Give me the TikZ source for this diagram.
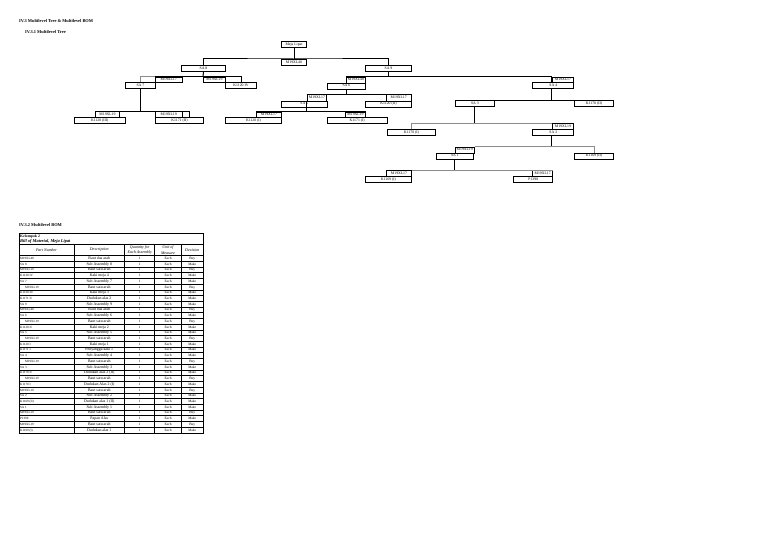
\documentclass[tikz,border=0pt]{standalone}
\usepackage{fontspec}
\setmainfont{Liberation Serif}
\tikzset{
	partbox/.style={draw, line width=1pt, anchor=north west, inner sep=0pt, minimum height=#1, font=\fontsize{3.8}{3.8}\selectfont, text height=2.5pt, text depth=0.7pt},
	partbox/.default=6pt,
	link/.style={line width=1pt},
	palelink/.style={line width=1pt, black!45},
	heading/.style={anchor=west, inner sep=0pt, font=\fontsize{4.4}{5}\selectfont\bfseries},
	cell/.style={inner sep=0pt, text height=2.5pt, text depth=0.7pt, font=\fontsize{3.5}{3.5}\selectfont},
	headcell/.style={inner sep=0pt, align=center, font=\fontsize{4}{5.4}\selectfont\itshape},
	rule/.style={line width=0.9pt}
}
\begin{document}
\begin{tikzpicture}[x=1pt,y=-1pt]
	\useasboundingbox (0,0) rectangle (768,543);

	\node[heading] (title) at (19,21) {IV.3 Multilevel Tree \& Multilevel BOM};
	\node[heading] (titletree) at (25,32.5) {IV.3.1 Multilevel Tree};
	\node[heading] (titlebom) at (19,225) {IV.3.2 Multilevel BOM};

	% tree, top
	\node[partbox, minimum width=25pt] (meja) at (281,41.5) {Meja Lipat};
	\node[partbox, minimum width=25pt] (m40a) at (281,59) {M19XL40};
	\node[partbox, minimum width=44pt] (sa8) at (181,65) {SA 8};
	\node[partbox, minimum width=46pt] (sa9) at (365,65) {SA 9};
	\draw[link] (meja.south) -- (meja.south |- m40a.north);
	\draw[link] (sa8.north) |- (m40a.north) -| (sa9.north);

	% SA 8
	\node[partbox=5.5pt, minimum width=26.5pt] (m19a) at (155,76.5) {M19XL17};
	\node[partbox=5.5pt, minimum width=22pt] (m19b) at (203,76.5) {M19XL19};
	\node[partbox, minimum width=30.5pt] (sa7) at (124.7,82) {SA 7};
	\node[partbox, minimum width=31pt] (k1120iv) at (225,82) {K1120 IV};
	\draw[link] (sa8.south) -- (m19b.north west);
	\draw[palelink] (sa7.north) |- (m19a.north west);
	\draw[link] (m19a.north west) -- (m19b.north west) -| (k1120iv.north);

	% SA 7
	\node[partbox=6pt, minimum width=24pt] (m19c) at (95,111.3) {M19XL19};
	\node[partbox=6pt, minimum width=26.5pt] (m19d) at (155,111.3) {M19XL19};
	\node[partbox, minimum width=50.5pt] (k1120iii) at (74,117.3) {K1120 (III)};
	\node[partbox, minimum width=48pt] (k1171ii) at (155,117.3) {K1171 (II)};
	\coordinate (endiii) at (189.3,117.3);
	\draw[link] (sa7.south) -- (sa7.south |- m19c.north);
	\draw[link] (m19c.north west) -| (endiii);

	% SA 9
	\node[partbox=6pt, minimum width=19.5pt] (m40b) at (345.7,76.5) {M19XL40};
	\node[partbox=5.5pt, minimum width=21.5pt] (m19e) at (551.7,76.8) {M19XL17};
	\node[partbox, minimum width=38.5pt] (sa6) at (326.7,82.5) {SA 6};
	\node[partbox, minimum width=41pt] (sa4) at (532.3,82.3) {SA 4};
	\draw[link] (sa9.south) -- (sa9.south |- m40b.north);
	\draw[link] (m40b.north west) -| (m19e.north west);

	% SA 6
	\node[partbox=6.2pt, minimum width=19.5pt] (m19f) at (306.7,94.3) {M19XL17};
	\node[partbox=6.2pt, minimum width=25.5pt] (m19g) at (385.5,94.3) {M19XL17};
	\node[partbox, minimum width=45.5pt] (sa5) at (281,100.5) {SA 5};
	\node[partbox, minimum width=46pt] (k1120ii) at (365,100.5) {K1120 (II)};
	\draw[link] (sa6.south) -- (sa6.south |- m19f.north);
	\draw[link] (m19f.north west) -| (m19g.north east);

	% SA 5
	\node[partbox=5.8pt, minimum width=25pt] (m19h) at (256,111.5) {M19XL17};
	\node[partbox=5.8pt, minimum width=20pt] (m19i) at (345,111.5) {M19XL19};
	\node[partbox, minimum width=56pt] (k1120i) at (225,117.3) {K1120 (I)};
	\node[partbox, minimum width=60pt] (k1171i) at (326.7,117.3) {K1171 (I)};
	\draw[link] (m19f.south west) -- (m19f.south west |- m19h.north);
	\draw[link] (m19h.north west) -| (m19i.north east);

	% SA 4
	\node[partbox, minimum width=39.5pt] (sa3) at (454.7,100.3) {SA 3};
	\node[partbox, minimum width=39pt] (k1170ii) at (574,100.3) {K1170 (II)};
	\draw[link] (m19e.north west) -- (m19e.north west |- sa4.north);
	\draw[link] (m19e.north west |- sa4.south) -- (m19e.north west |- k1170ii.north) coordinate (busa);
	\draw[link] (sa3.north) |- (busa) -| (k1170ii.north);

	% SA 3
	\node[partbox, minimum width=48.5pt] (k1170i) at (386.7,129.3) {K1170 (I)};
	\node[partbox=6pt, minimum width=21.5pt] (m19j) at (551.7,123.2) {M19XL19};
	\node[partbox, minimum width=41pt] (sa2) at (532.3,129.2) {SA 2};
	\draw[link] (sa3.south) -- (sa3.south |- m19j.north);
	\draw[palelink] (k1170i.north) |- (m19j.north west);

	% SA 2
	\node[partbox=6pt, minimum width=18.5pt] (m19k) at (455,146.5) {M19XL19};
	\node[partbox, minimum width=37.5pt] (sa1) at (435.7,152.5) {SA 1};
	\node[partbox, minimum width=39pt] (k1169ii) at (574,152.5) {K1169 (II)};
	\draw[link] (m19j.north west |- sa2.south) -- (m19j.north west |- m19k.north);
	\draw[palelink] (m19k.north east) -| (k1169ii.north);

	% SA 1
	\node[partbox=6pt, minimum width=25pt] (m19l) at (386,170) {M19XL17};
	\node[partbox=6pt, minimum width=20.3pt] (m19m) at (532,170) {M19XL17};
	\node[partbox, minimum width=46.3pt] (k1169i) at (364.7,176) {K1169 (I)};
	\node[partbox, minimum width=39pt] (p1390) at (513.3,176) {P1390};
	\draw[link] (sa1.south) -- (sa1.south |- m19l.north);
	\draw[palelink] (m19l.north east) -- (m19m.north east);

	% table, frame and rules
	\draw[rule] (19,233.5) rectangle (203.3,433);
	\draw[rule] (19,244.3) -- (203.3,244.3);
	\foreach \n in {0,...,30}
		\draw[rule] (19,255.7+5.72*\n) -- (203.3,255.7+5.72*\n);
	\foreach \c in {74,124.7,154.7,181.3}
		\draw[rule] (\c,244.3) -- (\c,433);

	\node[cell, anchor=west, font=\fontsize{3.8}{4}\selectfont\bfseries] (kelompok) at (20,236.5) {Kelompok 2};
	\node[cell, anchor=west, font=\fontsize{4.4}{4}\selectfont\bfseries\itshape] (bomname) at (20,241.5) {Bill of Material, Meja Lipat};
	\node[headcell] (hpart) at (46.5,250) {Part Number};
	\node[headcell] (hdesc) at (99.3,250) {Description};
	\node[headcell] (hqty) at (139.7,250) {Quantity for\\Each Assembly};
	\node[headcell] (hunit) at (168,250) {Unit of\\Measure};
	\node[headcell] (hdec) at (192.3,250) {Decision};

	\foreach \n/\ind/\pn/\desc/\dec in {
		0/0/M19XL40/Baut dua arah/Buy, 1/0/SA 8/Sub Assembly 8/Make,
		2/0/M19XL19/Baut satu arah/Buy, 3/0/K1120 IV/Kaki meja 4/Make,
		4/0/SA 7/Sub Assembly 7/Make, 5/5/M19XL19/Baut satu arah/Buy,
		6/0/K1120 III/Kaki meja 3/Make, 7/0/K1171 II/Dudukan alas 2/Make,
		8/0/SA 9/Sub Assembly 9/Make, 9/0/M19XL40/Baut dua arah/Buy,
		10/0/SA 6/Sub Assembly 6/Make, 11/5/M19XL19/Baut satu arah/Buy,
		12/0/K1120 II/Kaki meja 2/Make, 13/0/SA 5/Sub Assembly 5/Make,
		14/5/M19XL19/Baut satu arah/Buy, 15/0/K1120 I/Kaki meja 1/Make,
		16/0/K1171 I/Penyangga kaki 1/Make, 17/0/SA 4/Sub Assembly 4/Make,
		18/5/M19XL19/Baut satu arah/Buy, 19/0/SA 3/Sub Assembly 3/Make,
		20/0/K1170 II/Dudukan alas 2 (II)/Make, 21/5/M19XL19/Baut satu arah/Buy,
		22/0/K1170 I/Dudukan Alas 2 (I)/Make, 23/0/M19XL19/Baut satu arah/Buy,
		24/0/SA 2/Sub Assembly 2/Make, 25/0/K1169 (II)/Dudukan alas 1 (II)/Make,
		26/0/SA 1/Sub Assembly 1/Make, 27/0/M19XL19/Baut satu arah/Buy,
		28/0/P1390/Papan Alas/Make, 29/0/M19XL19/Baut satu arah/Buy,
		30/0/K1169 (I)/Dudukan alas 1/Make} {
		\node[cell, anchor=west, font=\fontsize{3.2}{3.2}\selectfont] (pn\n) at (20+\ind,258.56+5.72*\n) {\pn};
		\node[cell, font=\fontsize{3.9}{3.9}\selectfont] (desc\n) at (99.3,258.56+5.72*\n) {\desc};
		\node[cell] (qty\n) at (139.7,258.56+5.72*\n) {1};
		\node[cell] (unit\n) at (168,258.56+5.72*\n) {Each};
		\node[cell] (dec\n) at (192.3,258.56+5.72*\n) {\dec};
	}
\end{tikzpicture}
\end{document}
